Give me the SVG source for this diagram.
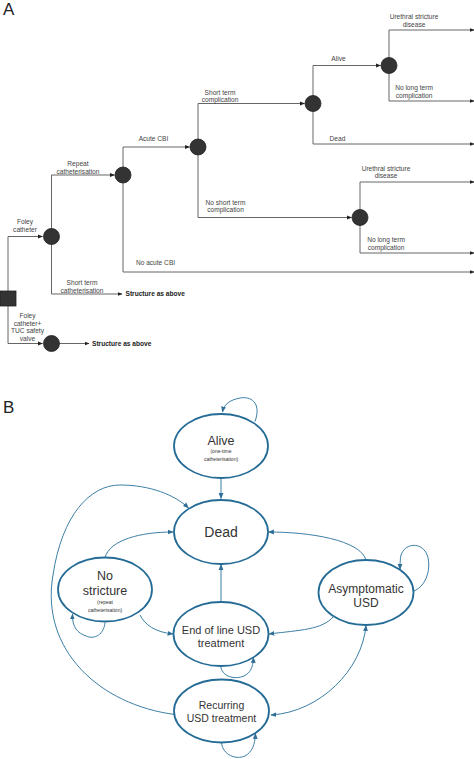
<svg xmlns="http://www.w3.org/2000/svg" width="474" height="759" viewBox="0 0 474 759">
<defs>
<marker id="ah" viewBox="0 0 10 10" refX="9" refY="5" markerWidth="5" markerHeight="5" orient="auto" markerUnits="userSpaceOnUse"><path d="M0,1 L10,5 L0,9 z" fill="#222"/></marker>
<marker id="bh" viewBox="0 0 10 10" refX="9" refY="5" markerWidth="6" markerHeight="6" orient="auto-start-reverse" markerUnits="userSpaceOnUse"><path d="M0,1 L10,5 L0,9 z" fill="#2f6f97"/></marker>
<style>
.t{font-family:"Liberation Sans",Arial,sans-serif;fill:#444;font-size:6.6px;text-anchor:middle}
.s{font-family:"Liberation Sans",Arial,sans-serif;fill:#222;font-size:6.6px;font-weight:bold}
.ln{fill:none;stroke:#666;stroke-width:1}
.cn{fill:#333;stroke:#222;stroke-width:0.8}
.el{fill:#fff;stroke:#246b96;stroke-width:1.8}
.bl{fill:none;stroke:#3d7fa6;stroke-width:1}
.bt{font-family:"Liberation Sans",Arial,sans-serif;fill:#333;text-anchor:middle}
.lab{font-family:"Liberation Sans",Arial,sans-serif;fill:#222;font-size:17px}
</style>
</defs>
<rect width="474" height="759" fill="#fff"/>
<text class="lab" x="3" y="15">A</text>
<text class="lab" x="3" y="413">B</text>

<g id="connectors-A">
<path class="ln" d="M8,236.5 V343.5"/>
<path class="ln" d="M8,236.5 H42.5" marker-end="url(#ah)"/>
<path class="ln" d="M8,343.5 H42.5" marker-end="url(#ah)"/>
<path class="ln" d="M59,343.5 H89" marker-end="url(#ah)"/>
<path class="ln" d="M51.5,175 V294"/>
<path class="ln" d="M51.5,175 H114.5" marker-end="url(#ah)"/>
<path class="ln" d="M51.5,294 H122" marker-end="url(#ah)"/>
<path class="ln" d="M123,147 V272"/>
<path class="ln" d="M123,147 H189.5" marker-end="url(#ah)"/>
<path class="ln" d="M123,272 H474" marker-end="url(#ah)"/>
<path class="ln" d="M198,103.5 V217.5"/>
<path class="ln" d="M198,103.5 H304.5" marker-end="url(#ah)"/>
<path class="ln" d="M198,217.5 H351.5" marker-end="url(#ah)"/>
<path class="ln" d="M313,65.5 V144"/>
<path class="ln" d="M313,65.5 H380.5" marker-end="url(#ah)"/>
<path class="ln" d="M313,144 H474" marker-end="url(#ah)"/>
<path class="ln" d="M389,30 V101"/>
<path class="ln" d="M389,30 H474" marker-end="url(#ah)"/>
<path class="ln" d="M389,101 H474" marker-end="url(#ah)"/>
<path class="ln" d="M360,182 V253"/>
<path class="ln" d="M360,182 H474" marker-end="url(#ah)"/>
<path class="ln" d="M360,253 H474" marker-end="url(#ah)"/>
</g>

<g id="decision-root"><rect class="cn" x="0" y="291" width="16" height="15"/></g>
<g id="chance-foley"><circle class="cn" cx="51.5" cy="236.5" r="8"/></g>
<g id="chance-tuc"><circle class="cn" cx="51.5" cy="343.5" r="8"/></g>
<g id="chance-repeat"><circle class="cn" cx="123" cy="175" r="8"/></g>
<g id="chance-acute"><circle class="cn" cx="198" cy="147" r="8"/></g>
<g id="chance-short"><circle class="cn" cx="313" cy="103.5" r="8"/></g>
<g id="chance-alive"><circle class="cn" cx="389" cy="65.5" r="8"/></g>
<g id="chance-noshort"><circle class="cn" cx="360" cy="217.5" r="8"/></g>

<g id="labels-A">
<text class="t" x="25" y="224">Foley</text>
<text class="t" x="25" y="231.5">catheter</text>
<text class="t" x="27.5" y="318">Foley</text>
<text class="t" x="27.5" y="325.5">catheter+</text>
<text class="t" x="27.5" y="333">TUC safety</text>
<text class="t" x="27.5" y="340.5">valve</text>
<text class="s" x="92" y="345.5">Structure as above</text>
<text class="t" x="78" y="166">Repeat</text>
<text class="t" x="78" y="173.5">catheterisation</text>
<text class="t" x="82" y="285">Short term</text>
<text class="t" x="82" y="292.5">catheterisation</text>
<text class="s" x="125.5" y="296">Structure as above</text>
<text class="t" x="153.5" y="141">Acute CBI</text>
<text class="t" x="155.5" y="265">No acute CBI</text>
<text class="t" x="220" y="94.5">Short term</text>
<text class="t" x="220" y="102">complication</text>
<text class="t" x="225.5" y="204.5">No short term</text>
<text class="t" x="225.5" y="212">complication</text>
<text class="t" x="338.5" y="61">Alive</text>
<text class="t" x="337.5" y="141">Dead</text>
<text class="t" x="414" y="19">Urethral stricture</text>
<text class="t" x="414" y="26.5">disease</text>
<text class="t" x="414" y="90">No long term</text>
<text class="t" x="414" y="97.5">complication</text>
<text class="t" x="386" y="170.5">Urethral stricture</text>
<text class="t" x="386" y="178">disease</text>
<text class="t" x="386" y="242">No long term</text>
<text class="t" x="386" y="249.5">complication</text>
</g>

<g id="connectors-B">
<path class="bl" d="M255,421.5 C262,402 250,396 240,398 C230,400 224,404 222.5,412" marker-end="url(#bh)"/>
<path class="bl" d="M221,478 V498.5" marker-end="url(#bh)"/>
<path class="bl" d="M221,602 V564.5" marker-end="url(#bh)"/>
<path class="bl" d="M105,557.5 C110,540 140,532 173,532" marker-end="url(#bh)"/>
<path class="bl" d="M366,560 C360,540 310,532 268.5,532" marker-end="url(#bh)"/>
<path class="bl" d="M175,714.5 C100,705 40,650 53,575 C62,515 90,485 120,485 C150,485 175,495 188.5,508" marker-end="url(#bh)"/>
<path class="bl" d="M140,615 C145,625 155,632 173,634" marker-end="url(#bh)"/>
<path class="bl" d="M333.5,616.5 C322,630 300,630 269,634" marker-end="url(#bh)"/>
<path class="bl" d="M366,625.5 C362,670 320,712 271,715" marker-start="url(#bh)" marker-end="url(#bh)"/>
<path class="bl" d="M105,622.5 C104,634 95,640 86,636 C78,633 72,628 72.5,614" marker-end="url(#bh)"/>
<path class="bl" d="M220.5,666 C222,677 235,680 244,676 C250,673 253,668 253.5,657.5" marker-end="url(#bh)"/>
<path class="bl" d="M221.5,743 C223,755 236,760 245,756 C252,752 255,745 255.5,733.5" marker-end="url(#bh)"/>
<path class="bl" d="M413,591.5 C430,585 432,560 425,551 C418,542 405,544 401,555 C400,560 400,565 400,569.5" marker-end="url(#bh)"/>
</g>

<g id="state-alive">
<ellipse class="el" cx="221" cy="446" rx="47" ry="32"/>
<text class="bt" x="221" y="444.5" font-size="12.5">Alive</text>
<text class="bt" x="221" y="452.5" font-size="5" fill="#666">(one-time</text>
<text class="bt" x="221" y="460.5" font-size="5" fill="#666">catheterisation)</text>
</g>
<g id="state-dead">
<ellipse class="el" cx="221" cy="532" rx="47" ry="32"/>
<text class="bt" x="221" y="537" font-size="14">Dead</text>
</g>
<g id="state-nostricture">
<ellipse class="el" cx="105" cy="589.5" rx="47" ry="32"/>
<text class="bt" x="105" y="579.5" font-size="12.5">No</text>
<text class="bt" x="105" y="595" font-size="12.5">stricture</text>
<text class="bt" x="105" y="603.5" font-size="5" fill="#666">(repeat</text>
<text class="bt" x="105" y="611.5" font-size="5" fill="#666">catheterisation)</text>
</g>
<g id="state-endofline">
<ellipse class="el" cx="221" cy="634" rx="47.5" ry="32"/>
<text class="bt" x="221" y="634" font-size="11">End of line USD</text>
<text class="bt" x="221" y="646.5" font-size="11">treatment</text>
</g>
<g id="state-asymptomatic">
<ellipse class="el" cx="366" cy="592.5" rx="47.5" ry="32.5"/>
<text class="bt" x="366" y="593" font-size="12">Asymptomatic</text>
<text class="bt" x="366" y="607" font-size="12">USD</text>
</g>
<g id="state-recurring">
<ellipse class="el" cx="221.5" cy="711" rx="47.5" ry="31.5"/>
<text class="bt" x="221.5" y="708.5" font-size="10.5">Recurring</text>
<text class="bt" x="221.5" y="721.5" font-size="10.5">USD treatment</text>
</g>
</svg>
